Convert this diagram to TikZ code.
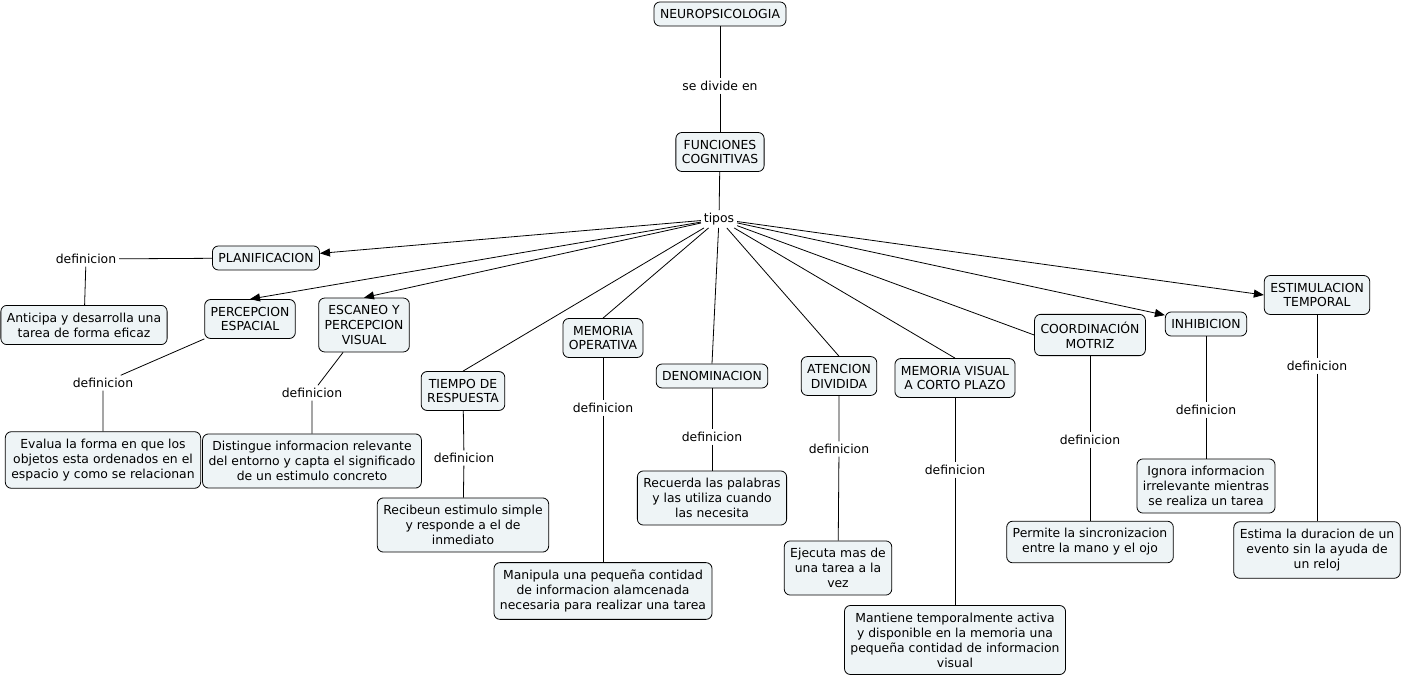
\documentclass[tikz,border=0pt]{standalone}
\usepackage{fontspec}
\setmainfont{DejaVu Sans}
\usetikzlibrary{arrows.meta}
\definecolor{cajafondo}{RGB}{238,244,246}
\tikzset{
  concepto/.style={draw, line width=0.6pt, rounded corners=4.5pt, fill=cajafondo,
    align=center, inner xsep=4.5pt, inner ysep=5.5pt, font=\fontsize{9.3}{11.2}\selectfont},
  enlace/.style={align=center, inner sep=2pt, font=\fontsize{9.3}{11.2}\selectfont},
  linea/.style={line width=0.6pt},
  flecha/.style={line width=0.6pt, -{Triangle[length=7.5pt,width=6pt]}}
}
\begin{document}
\begin{tikzpicture}[x=0.75pt, y=-0.75pt]
        \useasboundingbox (0,0) rectangle (1402,677);
        % tronco
        \node[concepto] (neuro) at (720,14) {NEUROPSICOLOGIA};
        \node[enlace] (divide) at (720,86) {se divide en};
        \node[concepto] (funciones) at (720,152) {FUNCIONES\\COGNITIVAS};
        \node[enlace] (tipos) at (719,219) {tipos};
        % tipos de funciones
        \node[concepto] (planif) at (266,258) {PLANIFICACION};
        \node[concepto] (perc) at (250,319) {PERCEPCION\\ESPACIAL};
        \node[concepto] (escaneo) at (364,325) {ESCANEO Y\\PERCEPCION\\VISUAL};
        \node[concepto] (tiempo) at (463,391) {TIEMPO DE\\RESPUESTA};
        \node[concepto] (memop) at (603,338) {MEMORIA\\OPERATIVA};
        \node[concepto] (denom) at (712,376) {DENOMINACION};
        \node[concepto] (atencion) at (839,376) {ATENCION\\DIVIDIDA};
        \node[concepto] (memvis) at (955,378) {MEMORIA VISUAL\\A CORTO PLAZO};
        \node[concepto] (coord) at (1090,335) {COORDINACIÓN\\MOTRIZ};
        \node[concepto] (inhib) at (1206,324) {INHIBICION};
        \node[concepto] (estim) at (1317,295) {ESTIMULACION\\TEMPORAL};
        % enlaces definicion
        \node[enlace] (dplanif) at (86,259) {definicion};
        \node[enlace] (dperc) at (103,383) {definicion};
        \node[enlace] (descaneo) at (312,393) {definicion};
        \node[enlace] (dtiempo) at (464,458) {definicion};
        \node[enlace] (dmemop) at (603,408) {definicion};
        \node[enlace] (ddenom) at (712,437) {definicion};
        \node[enlace] (datencion) at (839,449) {definicion};
        \node[enlace] (dmemvis) at (955,470) {definicion};
        \node[enlace] (dcoord) at (1090,440) {definicion};
        \node[enlace] (dinhib) at (1206,410) {definicion};
        \node[enlace] (destim) at (1317,366) {definicion};
        % definiciones
        \node[concepto] (tplanif) at (84,325) {Anticipa y desarrolla una\\tarea de forma eficaz};
        \node[concepto] (tperc) at (103,460) {Evalua la forma en que los\\objetos esta ordenados en el\\espacio y como se relacionan};
        \node[concepto] (tescaneo) at (312,461) {Distingue informacion relevante\\del entorno y capta el significado\\de un estimulo concreto};
        \node[concepto] (ttiempo) at (463,525) {Recibeun estimulo simple\\y responde a el de\\inmediato};
        \node[concepto] (tmemop) at (603,591) {Manipula una pequeña contidad\\de informacion alamcenada\\necesaria para realizar una tarea};
        \node[concepto] (tdenom) at (712,498) {Recuerda las palabras\\y las utiliza cuando\\las necesita};
        \node[concepto] (tatencion) at (838,568) {Ejecuta mas de\\una tarea a la\\vez};
        \node[concepto] (tmemvis) at (955,640) {Mantiene temporalmente activa\\y disponible en la memoria una\\pequeña contidad de informacion\\visual};
        \node[concepto] (tcoord) at (1090,542) {Permite la sincronizacion\\entre la mano y el ojo};
        \node[concepto] (tinhib) at (1206,486) {Ignora informacion\\irrelevante mientras\\se realiza un tarea};
        \node[concepto] (testim) at (1317,550) {Estima la duracion de un\\evento sin la ayuda de\\un reloj};
        % conectores
        \draw[linea] (neuro) -- (divide);
        \draw[linea] (divide) -- (funciones);
        \draw[linea] (funciones) -- (tipos);
        \draw[flecha] (tipos) -- (planif);
        \draw[flecha] (tipos) -- (perc.north);
        \draw[flecha] (tipos) -- (escaneo.north);
        \draw[linea] (tipos) -- (tiempo.north);
        \draw[linea] (tipos) -- (memop.north);
        \draw[linea] (tipos) -- (denom.north);
        \draw[linea] (tipos) -- (atencion.north);
        \draw[linea] (tipos) -- (memvis.north);
        \draw[linea] (tipos) -- (coord.west);
        \draw[flecha] (tipos) -- (inhib);
        \draw[flecha] (tipos) -- (estim.west);
        \foreach \c in {planif, perc, escaneo, tiempo, memop, denom, atencion, memvis, coord, inhib, estim}
          \draw[linea] (\c) -- (d\c) (d\c) -- (t\c);
\end{tikzpicture}
\end{document}
